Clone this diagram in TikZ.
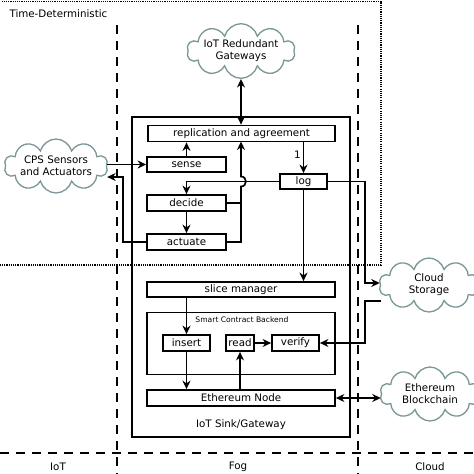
\documentclass[tikz,border=0pt]{standalone}
\usepackage{fontspec}
\setmainfont{DejaVu Sans}
\usetikzlibrary{shapes.symbols,arrows.meta}
\definecolor{cloudline}{RGB}{122,150,150}
\begin{document}
\begin{tikzpicture}[x=1pt,y=-1pt,
  every node/.style={font=\fontsize{10.3}{12}\selectfont},
  box/.style={draw,line width=1.8pt,rectangle,inner sep=0pt,fill=white},
  cloudbox/.style={draw=cloudline,line width=1.3pt,cloud,cloud puffs=10,cloud ignores aspect,
     inner sep=0pt,fill=white,align=center},
  conn/.style={line width=1.7pt},
  arr/.style={conn,-{Stealth[length=8.5pt,width=8pt]}},
  darr/.style={conn,{Stealth[length=8.5pt,width=8pt]}-{Stealth[length=8.5pt,width=8pt]}},
  sep/.style={line width=2pt,dash pattern=on 9pt off 7pt},
  dotbox/.style={line width=1.4pt,dash pattern=on 1.1pt off 1.1pt}]
\useasboundingbox (0,0) rectangle (474,474);
% time-deterministic region
\draw[dotbox] (-5,1.5) -- (381,1.5) -- (381,265) -- (-5,265);
\node[anchor=west] (td) at (6,13.5) {Time-Deterministic};
% domain separators
\draw[sep] (117,25) -- (117,474);
\draw[sep] (358,25) -- (358,474);
\draw[sep] (0,453) -- (474,453);
\node (iot) at (58,467) {IoT};
\node (fog) at (238,467) {Fog};
\node (cld) at (430,467) {Cloud};
% sink box
\node[box,minimum width=218pt,minimum height=320pt,fill=none] (sink) at (241,277) {};
\node (sinklbl) at (241,425) {IoT Sink/Gateway};
% inner boxes
\node[box,minimum width=187pt,minimum height=16pt] (repl) at (241.5,133.5) {replication and agreement};
\node[box,minimum width=79pt,minimum height=15pt] (sense) at (186.5,164.5) {sense};
\node[box,minimum width=79pt,minimum height=16pt] (decide) at (186.5,203) {decide};
\node[box,minimum width=79pt,minimum height=16pt] (actuate) at (186.5,242) {actuate};
\node[box,minimum width=47pt,minimum height=15pt] (log) at (303.5,181.5) {log};
\node[box,minimum width=188pt,minimum height=15pt] (slice) at (241,289.5) {slice manager};
\node[box,minimum width=188pt,minimum height=62pt] (scb) at (241,343.5) {};
\node[font=\fontsize{7.6}{9}\selectfont] (scblbl) at (242,319.5) {Smart Contract Backend};
\node[box,minimum width=47pt,minimum height=16pt] (insert) at (186.5,343) {insert};
\node[box,minimum width=28pt,minimum height=16pt] (read) at (240,343) {read};
\node[box,minimum width=47pt,minimum height=16pt] (verify) at (295.5,343) {verify};
\node[box,minimum width=188pt,minimum height=16pt] (eth) at (241,398) {Ethereum Node};
% clouds
\node[cloudbox,minimum width=98pt,minimum height=54pt] (gw) at (241,51) {IoT Redundant\\Gateways};
\node[cloudbox,minimum width=98pt,minimum height=54pt] (cps) at (56,166) {CPS Sensors\\and Actuators};
\node[cloudbox,minimum width=100pt,minimum height=54pt] (storage) at (429,285) {Cloud\\Storage};
\node[cloudbox,minimum width=100pt,minimum height=54pt] (chain) at (430,394) {Ethereum\\Blockchain};
% helper coordinates
\coordinate (cpsin) at (123,177);
\coordinate (stin) at (365,283);
\coordinate (stout) at (381,301);
% connectors
\draw[darr] (gw.south) -- (gw.south |- repl.north);
\draw[arr] (cps.east |- sense.west) -- (sense.west);
\draw[arr] (actuate.west) -| (cpsin) -- (cpsin -| cps.east);
\draw[arr] (sense.north) -- (sense.north |- repl.south);
\draw[arr] (decide.south) -- (actuate.north);
\draw[arr] (log.west) -| (decide.north);
\draw[arr] (actuate.east) -- (241,242) -- (241,186.5)
   .. controls (247.5,186.5) and (247.5,176.5) .. (241,176.5) -- (241,141.5);
\draw[conn] (decide.east) -- (241,203);
\draw[arr] (log.north |- repl.south) -- node[left,pos=0.4,inner sep=2pt] {1} (log.north);
\draw[arr] (log.south) -- (log.south |- slice.north);
\draw[arr] (log.east) -| (stin) -- (stin -| storage.west);
\draw[arr] (stout) -- (365,301) |- (verify.east);
\draw[arr] (insert.north |- slice.south) -- (insert.north);
\draw[arr] (insert.south) -- (insert.south |- eth.north);
\draw[arr] (read.south |- eth.north) -- (read.south);
\draw[arr] (read.east) -- (verify.west);
\draw[darr] (eth.east) -- (eth.east -| chain.west);
\end{tikzpicture}
\end{document}
